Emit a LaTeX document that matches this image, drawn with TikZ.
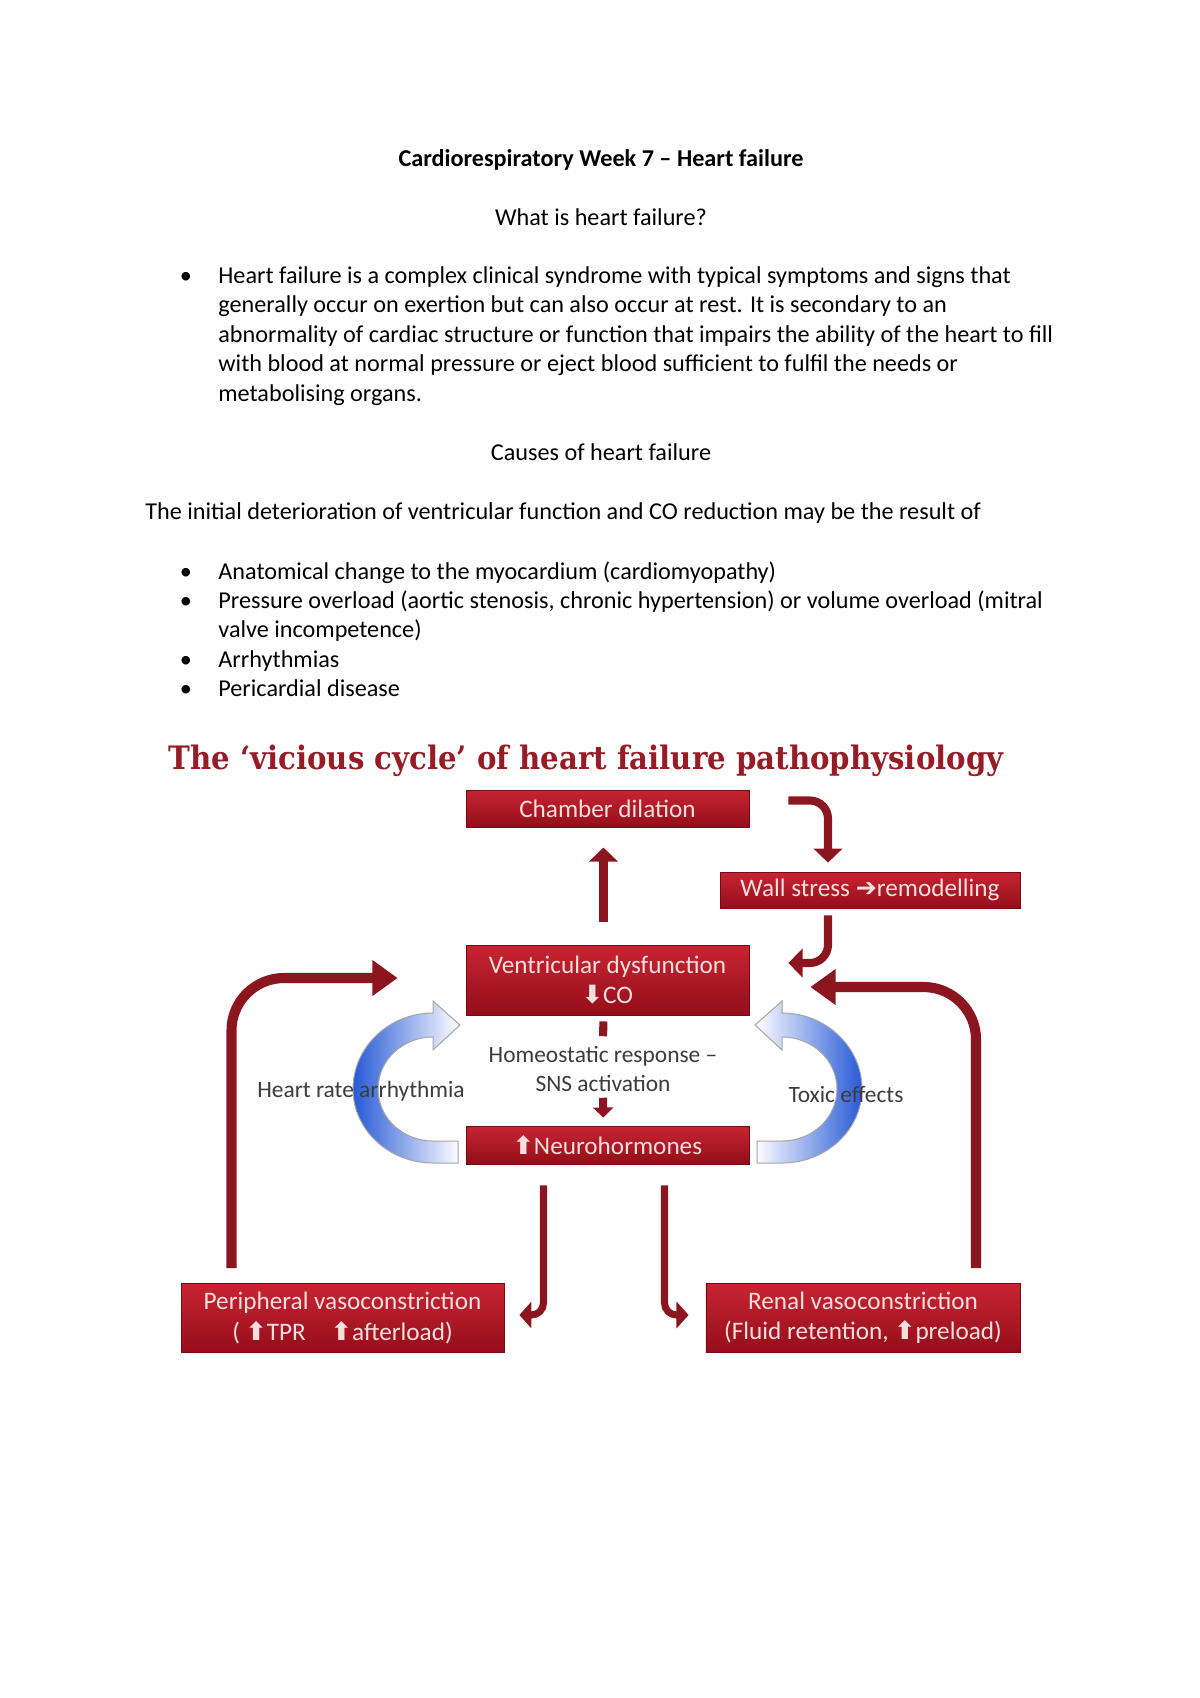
\documentclass[tikz,border=0pt]{standalone}
\usepackage{fontspec}
\usepackage{graphicx}
\setmainfont{Carlito}
\newfontfamily\slabfont{DejaVu Serif}
\newfontfamily\symfont{DejaVu Sans}
\usetikzlibrary{arrows.meta,calc,positioning}
\definecolor{hfred}{RGB}{140,22,32}
\definecolor{boxtop}{RGB}{200,36,50}
\definecolor{boxbot}{RGB}{148,14,26}
\definecolor{boxtext}{RGB}{246,222,222}
\definecolor{ttlred}{RGB}{150,28,38}
\definecolor{ribblue}{RGB}{40,90,215}
\definecolor{labgray}{RGB}{60,60,60}
\newcommand{\hfup}{{\symfont\bfseries ⬆}}
\newcommand{\hfdown}{{\symfont\bfseries ⬇}}
\newcommand{\hfright}{{\symfont\bfseries ➔}}
\tikzset{
  redbox/.style={rectangle, top color=boxtop, bottom color=boxbot, draw=boxbot!80!black,
    line width=0.4pt, text=boxtext, align=center, inner sep=0pt,
    font=\fontsize{12.5}{15}\selectfont},
  lab/.style={text=labgray, align=center, inner sep=1pt, font=\fontsize{11.6}{14}\selectfont},
  line/.style={anchor=base west, inner sep=0pt},
  bul/.style={anchor=base, inner sep=0pt},
  arr/.style={draw=hfred, line width=4pt, rounded corners=9pt, -{Triangle[length=7pt,width=14pt]}},
  bigarr/.style={draw=hfred, line width=5pt, rounded corners=26pt, -{Triangle[length=12.5pt,width=17pt]}},
  hookarr/.style={draw=hfred, line width=3.5pt, rounded corners=6pt, -{Triangle[length=6pt,width=13pt]}}
}
\begin{document}
\begin{tikzpicture}[x=0.4958pt, y=-0.4958pt, font=\fontsize{12}{14.6}\selectfont]
\path[use as bounding box, fill=white] (0,0) rectangle (1200,1698);
% page text
\node[bul, font=\bfseries\fontsize{12}{14.6}\selectfont] (head) at (601,166) {Cardiorespiratory Week 7 -- Heart failure};
\node[bul] (what) at (601,225) {What is heart failure?};
\node[bul] (b0) at (186,283) {•};
\node[line] (p1) at (218,283) {Heart failure is a complex clinical syndrome with typical symptoms and signs that};
\node[line] (p2) at (218,312.5) {generally occur on exertion but can also occur at rest. It is secondary to an};
\node[line] (p3) at (218,342) {abnormality of cardiac structure or function that impairs the ability of the heart to fill};
\node[line] (p4) at (218,371.5) {with blood at normal pressure or eject blood sufficient to fulfil the needs or};
\node[line] (p5) at (218,401) {metabolising organs.};
\node[bul] (causes) at (601,460) {Causes of heart failure};
\node[line] (intro) at (145,519.5) {The initial deterioration of ventricular function and CO reduction may be the result of};
\foreach \y/\n in {579/1,608/2,667/3,696/4}{\node[bul] (c\n) at (186,\y) {•};}
\node[line] (q1) at (218,579) {Anatomical change to the myocardium (cardiomyopathy)};
\node[line] (q2) at (218,608) {Pressure overload (aortic stenosis, chronic hypertension) or volume overload (mitral};
\node[line] (q3) at (218,637.5) {valve incompetence)};
\node[line] (q4) at (218,667) {Arrhythmias};
\node[line] (q5) at (218,696) {Pericardial disease};
% the vicious cycle
\node[text=ttlred, font=\slabfont\bfseries\fontsize{16}{19}\selectfont] (dtitle) at (586,761)
  {\resizebox{414pt}{\height}{The ‘vicious cycle’ of heart failure pathophysiology}};
\node[redbox, minimum width=140.3pt, minimum height=18.3pt] (cham) at (607.5,808.5) {Chamber dilation};
\node[redbox, minimum width=148.7pt, minimum height=17.8pt] (wall) at (870,890) {Wall stress \hfright remodelling};
\node[redbox, minimum width=140.3pt, minimum height=34.7pt] (vent) at (607.5,980) {Ventricular dysfunction\\\hfdown CO};
\node[redbox, minimum width=140.3pt, minimum height=18.8pt] (neuro) at (607.5,1145) {\hfup Neurohormones};
\node[redbox, minimum width=160.1pt, minimum height=34.2pt] (peri) at (342.5,1318) {Peripheral vasoconstriction\\( \hfup TPR\quad\hfup afterload)};
\node[redbox, minimum width=155.7pt, minimum height=34.2pt] (renal) at (863,1318) {Renal vasoconstriction\\(Fluid retention, \hfup preload)};
\node[lab] (homeo) at (603,1069) {Homeostatic response --\\SNS activation};
% red arrows
\draw[arr, shorten <=11pt, shorten >=10pt] ([xshift=-2pt]vent.north) -- ([xshift=-2pt]cham.south);
\draw[arr] ($(cham.east)+(39,-8)$) -| ($(wall.north)+(-42,-9)$);
\draw[arr] ($(wall.south)+(-42,7)$) |- ($(vent.east)+(39,-17)$);
\draw[hfred, line width=4pt, shorten <=3pt, shorten >=4pt] ([xshift=-2pt]vent.south) -- (homeo.north);
\draw[hfred, line width=4pt, shorten <=2pt, shorten >=4pt, -{Triangle[length=5pt,width=10pt]}] (homeo.south) -- ([xshift=-2pt]neuro.north);
\draw[bigarr] ($(peri.north)+(-111,-15)$) |- ($(vent.west)+(-68,-2)$);
\draw[bigarr] ($(renal.north)+(113,-15)$) |- ($(vent.east)+(61,7)$);
\draw[hookarr] ($(neuro.south)+(-64,21)$) |- ($(peri.east)+(15,-3)$);
\draw[hookarr] ($(neuro.south)+(57,21)$) |- ($(renal.west)+(-17,-3)$);
% blue ribbons
\tikzset{ribbon/.pic={
  \shadedraw[#1, draw=gray!70, line width=0.5pt]
    (0,-76) .. controls (-44,-76) and (-80,-42) .. (-80,0)
    .. controls (-80,41) and (-44,74) .. (0,74) -- (25,74) -- (25,52) -- (0,52)
    .. controls (-30,52) and (-55,29) .. (-55,0)
    .. controls (-55,-29) and (-30,-52) .. (0,-52) -- (0,-39) -- (27,-64) -- (0,-88) -- cycle;
}}
\pic at (433,1089) {ribbon={left color=ribblue, right color=white}};
\pic[xscale=-1] at (782,1089) {ribbon={left color=white, right color=ribblue}};
\node[lab] (rate) at (361,1091) {Heart rate arrhythmia};
\node[lab] (toxic) at (846,1094) {Toxic effects};
\end{tikzpicture}
\end{document}
